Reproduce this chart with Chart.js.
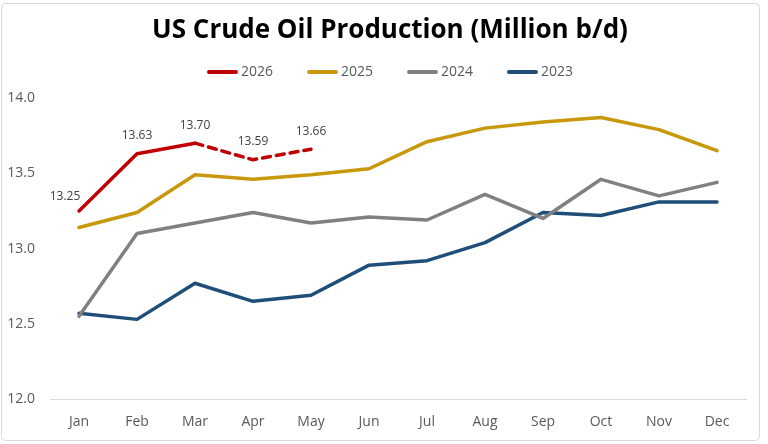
<!DOCTYPE html>
<html>
<head>
<meta charset="utf-8">
<script src="https://cdn.jsdelivr.net/npm/chart.js@4"></script>
<style>
  html, body { margin: 0; padding: 0; background: #fff; }
  #wrap { width: 768px; height: 444px; position: relative; }
</style>
</head>
<body>
<div id="wrap"><canvas id="chart" width="768" height="444"></canvas></div>
<script>
// --- data ---
const months = ['Jan','Feb','Mar','Apr','May','Jun','Jul','Aug','Sep','Oct','Nov','Dec'];
const prod2026 = [13.25, 13.63, 13.70, 13.59, 13.66, null, null, null, null, null, null, null];
const prod2025 = [13.14, 13.24, 13.49, 13.46, 13.49, 13.53, 13.71, 13.80, 13.84, 13.87, 13.79, 13.65];
const prod2024 = [12.55, 13.10, 13.17, 13.24, 13.17, 13.21, 13.19, 13.36, 13.20, 13.46, 13.35, 13.44];
const prod2023 = [12.57, 12.53, 12.77, 12.65, 12.69, 12.89, 12.92, 13.04, 13.24, 13.22, 13.31, 13.31];
const yTicks = [12.0, 12.5, 13.0, 13.5, 14.0];
// first estimated month for 2026 (dashed from here on)
const estFrom = 2;

const RED = '#C00000', GOLD = '#C8980A', GRAY = '#808080', BLUE = '#1F4E79';
const FONT = '"Open Sans", sans-serif';
const TXT = '#595959';
const TITLE = 'US Crude Oil Production (Million b/d)';

function lineSet(label, data, color, extra) {
  return Object.assign({
    label, data,
    borderColor: color, backgroundColor: color,
    borderWidth: 3.5, pointRadius: 0, pointHoverRadius: 0,
    tension: 0, borderJoinStyle: 'round', borderCapStyle: 'round',
    spanGaps: false, fill: false
  }, extra || {});
}

// frame + title + legend (drawn by hand to sit where the original has them)
const headerPlugin = {
  id: 'header',
  beforeDraw(chart) {
    const c = chart.ctx;
    c.save();
    c.fillStyle = '#fff';
    c.fillRect(0, 0, chart.width, chart.height);
    c.strokeStyle = '#d9d9d9';
    c.lineWidth = 1;
    c.beginPath();
    c.roundRect(1.5, 3.5, 758, 437, 4);
    c.stroke();

    const cx = 390;
    c.fillStyle = '#000';
    c.font = 'bold 26px ' + FONT;
    c.textAlign = 'center';
    c.textBaseline = 'middle';
    c.fillText(TITLE, cx, 31);

    // legend
    const sets = chart.data.datasets;
    const step = 100, lineW = 31, gap = 3;
    c.font = '14px ' + FONT;
    const lastW = lineW + gap + c.measureText(sets[sets.length - 1].label).width;
    let x = cx - ((sets.length - 1) * step + lastW) / 2;
    c.textAlign = 'left';
    sets.forEach(ds => {
      c.strokeStyle = ds.borderColor;
      c.lineWidth = 4;
      c.lineCap = 'round';
      c.beginPath();
      c.moveTo(x + 2, 72);
      c.lineTo(x + lineW - 2, 72);
      c.stroke();
      c.fillStyle = TXT;
      c.fillText(ds.label, x + lineW + gap, 72);
      x += step;
    });
    c.restore();
  }
};

// value labels on the 2026 line
const valueLabels = {
  id: 'valueLabels',
  afterDatasetsDraw(chart) {
    const c = chart.ctx;
    const meta = chart.getDatasetMeta(0);
    c.save();
    c.font = '12px ' + FONT;
    c.fillStyle = '#404040';
    c.textAlign = 'center';
    c.textBaseline = 'middle';
    prod2026.forEach((v, i) => {
      if (v == null) return;
      const p = meta.data[i];
      const dx = i === 0 ? -14 : 0;
      const dy = i === 0 ? -14 : -18;
      c.fillText(v.toFixed(2), p.x + dx, p.y + dy);
    });
    c.restore();
  }
};

new Chart(document.getElementById('chart'), {
  type: 'line',
  data: {
    labels: months,
    datasets: [
      lineSet('2026', prod2026, RED, {
        segment: { borderDash: ctx => ctx.p0DataIndex >= estFrom ? [8, 6] : undefined }
      }),
      lineSet('2025', prod2025, GOLD),
      lineSet('2024', prod2024, GRAY),
      lineSet('2023', prod2023, BLUE)
    ]
  },
  options: {
    responsive: false,
    animation: false,
    layout: { padding: { left: 0, right: 22, top: 98, bottom: 0 } },
    plugins: {
      title: { display: false },
      legend: { display: false },
      tooltip: { enabled: false }
    },
    scales: {
      x: {
        offset: true,
        grid: { display: false, drawTicks: false },
        border: { display: true, color: '#d9d9d9', width: 1 },
        ticks: { color: TXT, font: { family: FONT, size: 14 }, padding: 14 }
      },
      y: {
        min: 12, max: 14,
        afterBuildTicks: axis => { axis.ticks = yTicks.map(v => ({ value: v })); },
        afterFit: axis => { axis.width = 50; },
        grid: { display: false, drawTicks: false },
        border: { display: false },
        ticks: {
          color: TXT, font: { family: FONT, size: 14 }, padding: 15,
          callback: v => Number(v).toFixed(1)
        }
      }
    }
  },
  plugins: [headerPlugin, valueLabels]
});
</script>
</body>
</html>
